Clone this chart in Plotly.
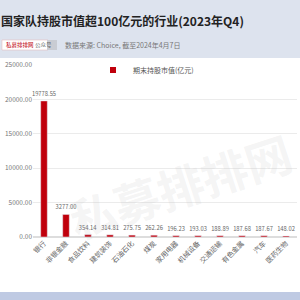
import plotly.graph_objects as go

categories = ["银行", "非银金融", "食品饮料", "建筑装饰", "石油石化", "煤炭",
              "家用电器", "机械设备", "交通运输", "有色金属", "汽车", "医药生物"]
values = [19778.55, 3277.00, 354.14, 314.81, 275.75, 262.26,
          196.23, 193.03, 188.89, 187.68, 187.67, 148.02]
series_name = "期末持股市值(亿元)"
y_ticks = [0, 5000, 10000, 15000, 20000, 25000]

FONT = "Noto Sans CJK SC"
RED = "#c0000c"

fig = go.Figure()
fig.add_trace(go.Bar(
    x=categories, y=values, name=series_name, showlegend=False,
    marker_color=RED, width=0.3,
    text=[f"{v:.2f}" for v in values], textposition="outside",
    constraintext="none",
    textfont=dict(size=5.8, color="#666666", family=FONT),
    cliponaxis=False,
))
# legend proxy with a small square marker
fig.add_trace(go.Scatter(
    x=[None], y=[None], mode="markers", name=series_name,
    marker=dict(symbol="square", size=6, color=RED), showlegend=True,
))

W, H = 300, 300

def px(xp):
    return (xp - 33) / 264

def py(yp):
    return (237 - yp) / 172

fig.update_layout(
    width=W, height=H,
    margin=dict(l=33, r=3, t=65, b=63),
    paper_bgcolor="#dde3ee",
    plot_bgcolor="rgba(0,0,0,0)",
    font=dict(family=FONT, color="#666666"),
    showlegend=True,
    legend=dict(x=px(93), y=py(70), xanchor="left", yanchor="middle",
                orientation="h", bgcolor="rgba(0,0,0,0)",
                font=dict(size=7, color="#555555", family=FONT),
                itemwidth=30),
    bargap=0.7,
    xaxis=dict(tickangle=-45, tickfont=dict(size=7, color="#666666"),
               showline=False, ticks="", showgrid=False),
    yaxis=dict(range=[0, 25000], tickvals=y_ticks, tickformat=".2f",
               tickfont=dict(size=6.5, color="#777777"),
               gridcolor="#ebebeb", gridwidth=1, zeroline=True,
               zerolinecolor="#dddddd", ticks="", ticklen=0),
    shapes=[
        dict(type="rect", xref="paper", yref="paper",
             x0=px(0), x1=px(300), y0=py(292), y1=py(58),
             fillcolor="white", line_width=0, layer="below"),
        dict(type="rect", xref="paper", yref="paper",
             x0=px(0), x1=px(300), y0=py(300), y1=py(292),
             fillcolor="#bfcae3", line_width=0, layer="below"),
        dict(type="rect", xref="paper", yref="paper",
             x0=px(2), x1=px(48), y0=py(50), y1=py(40),
             fillcolor="white", line=dict(color="#e6b0b0", width=0.5), layer="below"),
        dict(type="rect", xref="paper", yref="paper",
             x0=px(47), x1=px(57), y0=py(50), y1=py(40),
             fillcolor="#c9ccd3", line_width=0, layer="below"),
    ],
)

fig.add_annotation(text="<b>国家队持股市值超100亿元的行业(2023年Q4)</b>",
                   x=px(-1), y=py(20), xref="paper", yref="paper",
                   xanchor="left", yanchor="middle", showarrow=False,
                   font=dict(size=12, color="#222222", family=FONT))
fig.add_annotation(text="私募排排网", x=px(4), y=py(45), xref="paper", yref="paper",
                   xanchor="left", yanchor="middle", showarrow=False,
                   font=dict(size=5.5, color=RED, family=FONT))
fig.add_annotation(text="公众号", x=px(33), y=py(45), xref="paper", yref="paper",
                   xanchor="left", yanchor="middle", showarrow=False,
                   font=dict(size=5.5, color="#666666", family=FONT))
fig.add_annotation(text="数据来源: Choice, 截至2024年4月7日", x=px(63), y=py(45),
                   xref="paper", yref="paper", xanchor="left", yanchor="middle",
                   showarrow=False, font=dict(size=7, color="#777777", family=FONT))
fig.add_annotation(text="<b>私募排排网</b>", x=px(180), y=py(185), xref="paper", yref="paper",
                   xanchor="center", yanchor="middle", showarrow=False, textangle=-18,
                   font=dict(size=46, color="rgba(180,180,180,0.14)", family=FONT))

fig.write_html("out.html")
